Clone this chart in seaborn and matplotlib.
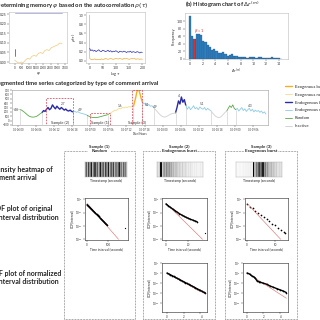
import numpy as np
import pandas as pd
import matplotlib
matplotlib.use('Agg')
import matplotlib.pyplot as plt
from matplotlib.patches import Rectangle
from matplotlib.ticker import LogLocator, NullLocator
import seaborn as sns

W, H = 320, 320

# ---------------- (a) memory and autocorrelation ----------------
phi_grid = list(range(0, 3301, 150))
mem_exo = [0.010, 0.000, -0.005, 0.000, -0.003, 0.010, 0.020, 0.015, 0.030, 0.035, 0.030, 0.045,
           0.050, 0.045, 0.060, 0.065, 0.060, 0.075, 0.080, 0.085, 0.090, 0.100, 0.095]
mem_endo = [0.255, 0.255, 0.255, 0.255, 0.255, 0.255, 0.255, 0.255, 0.255, 0.255, 0.255, 0.255,
            0.255, 0.255, 0.255, 0.255, 0.255, 0.255, 0.255, 0.255, 0.255, 0.255, 0.255]
mem_start_phi = [0, 0]
mem_start_vals = [0.03, 0.07]

lag_grid = [0, 1] + list(range(5, 201, 5))
acf_exo = [1.0, 0.05, 0.03, 0.02, 0.03, 0.04, 0.02, 0.03, 0.03, 0.02, 0.04, 0.03, 0.03, 0.05,
           0.04, 0.03, 0.04, 0.05, 0.04, 0.03, 0.04, 0.05, 0.04, 0.04, 0.05, 0.04, 0.03, 0.05,
           0.04, 0.05, 0.04, 0.03, 0.04, 0.05, 0.04, 0.05, 0.03, 0.04, 0.04, 0.03, 0.04, 0.03]
acf_endo = [np.nan, 0.27, 0.22, 0.24, 0.21, 0.23, 0.20, 0.22, 0.24, 0.21, 0.20, 0.23, 0.22, 0.20,
            0.21, 0.23, 0.20, 0.22, 0.19, 0.21, 0.20, 0.22, 0.20, 0.18, 0.21, 0.20, 0.19, 0.21,
            0.20, 0.18, 0.20, 0.19, 0.21, 0.18, 0.20, 0.19, 0.18, 0.20, 0.19, 0.17, 0.19, 0.18]

# ---------------- (b) histogram of delta r ----------------
bin_width = 0.35
bin_counts = [113, 60, 54, 67, 65, 63, 48, 45, 38, 32, 23, 27, 20, 15, 17, 18, 14, 9, 11, 12,
              8, 7, 5, 6, 4, 5, 3, 4, 5, 4, 3, 5, 4, 3, 2, 3, 2, 4, 3, 2, 3, 1]
beta_bin = 2

# ---------------- (c) segmented time series ----------------
seg_kind = ['Inactive', 'Random', 'Endogenous burst', 'Endogenous non-burst', 'Random',
            'Exogenous non-burst', 'Exogenous burst', 'Endogenous non-burst', 'Inactive',
            'Endogenous burst', 'Endogenous non-burst', 'Inactive', 'Random', 'Endogenous non-burst']
seg_start = [-1.7, 0.7, 8.0, 18.3, 23.0, 30.0, 38.3, 41.3, 45.0, 52.3, 55.7, 64.0, 69.3, 72.3]
series_end = 82.3
seg_values = [
    [262, 265, 263, 262, 258, 255],
    [255, 240, 215, 190, 160, 130, 105, 90, 82, 80, 85, 95, 115, 140, 165, 185],
    [185, 230, 210, 260, 300, 250, 280, 360, 310, 270, 330, 290, 260, 300, 270, 240, 265, 230,
     220, 240, 210, 200],
    [200, 215, 190, 205, 180, 170, 160, 150, 140, 120],
    [120, 100, 85, 75, 70, 68, 72, 80, 90, 100, 110, 120, 130, 140],
    [140, 160, 190, 210, 240, 230, 260, 280, 270, 300, 290, 310, 300, 320, 310, 330, 320],
    [320, 420, 520, 650, 720, 680, 600, 500, 420],
    [420, 380, 400, 350, 370, 330, 340, 300],
    [300, 260, 220, 180, 140, 110, 90, 80, 90, 110, 130, 150, 160, 170, 180],
    [180, 300, 450, 380, 540, 420, 480, 350],
    [350, 260, 320, 250, 290, 340, 270, 300, 250, 310, 280, 260, 300, 240, 280, 250, 230],
    [230, 180, 140, 100, 80, 70, 80, 110, 150, 190, 220],
    [220, 280, 340, 300, 360, 280, 250],
    [250, 280, 220, 260, 300, 230, 270, 210, 250, 280, 220, 260, 200, 240, 210, 230, 190, 220,
     170, 200, 150],
]
seg_labels = [(-0.5, 235, '4.4'), (15.0, 385, '2.7'), (20.5, 250, '4.9'), (34.0, 330, '1.6'),
              (42.8, 355, '6.1'), (45.5, 315, '4.9'), (53.5, 560, '4'), (61.0, 380, '5.1'),
              (77.0, 330, '4.3')]
sample_windows = [(9.3, 18.3, 517, 'Sample (2)'), (24.0, 30.7, 174, 'Sample (1)'),
                  (37.7, 41.3, 700, 'Sample (3)')]
kind_order = ['Exogenous burst', 'Exogenous non-burst', 'Endogenous burst',
              'Endogenous non-burst', 'Random', 'Inactive']
kind_colors = ['#f2b01e', '#f6dc8c', '#2a2aa8', '#8ccbe6', '#5aa845', '#cfcfcf']
kind_widths = [1.0, 0.6, 1.0, 0.6, 0.6, 0.6]

# ---------------- (d) density heatmap of arrivals ----------------
density_random = [0.5, 0.7, 0.4, 0.8, 0.5, 0.6, 0.9, 0.4, 0.6, 0.8, 0.5, 0.7, 0.4, 0.6, 0.9, 0.5,
                  0.6, 0.7, 0.4, 0.8, 0.6, 0.5, 0.9, 0.4, 0.6, 0.7, 0.5, 0.8, 0.4, 0.6, 0.5, 0.7,
                  0.9, 0.5, 0.6, 0.4, 0.7, 0.5, 0.6, 0.4]
density_endo = [0.25, 0.2, 0.3, 0.95, 0.3, 0.45, 0.5, 0.4, 0.55, 0.45, 0.5, 0.4, 0.45, 0.35, 0.4,
                0.3, 0.35, 0.3, 0.25, 0.3, 0.25, 0.2, 0.3, 0.2, 0.25, 0.2, 0.15, 0.2, 0.15, 0.2,
                0.15, 0.1, 0.15, 0.1, 0.15, 0.1, 0.1, 0.15, 0.1, 0.1]
density_exo = [0.05, 0.05, 0.05, 0.08, 0.05, 0.08, 0.1, 0.08, 0.1, 0.1, 0.12, 0.1, 0.15, 0.12,
               0.15, 1.0, 0.4, 0.6, 0.5, 0.7, 0.8, 0.6, 0.7, 0.9, 0.5, 0.6, 0.4, 0.5, 0.4, 0.35,
               0.4, 0.3, 0.35, 0.3, 0.25, 0.3, 0.2, 0.25, 0.2, 0.2]

# ---------------- (e) CDF of original intervals ----------------
cdf_rand_x = [0, 5, 10, 15, 20, 25, 30, 35, 40, 45, 50, 55, 60, 65, 70, 75, 80, 85, 90, 95]
cdf_rand_y = [0.40, 0.33, 0.28, 0.23, 0.19, 0.16, 0.13, 0.11, 0.09, 0.075, 0.062, 0.052, 0.043,
              0.036, 0.030, 0.025, 0.021, 0.017, 0.014, 0.012]
cdf_rand_tail = ([180], [0.0065])
fit_rand = ([0, 150], [0.5, 0.001])

cdf_endo_x = [0, 2, 4, 6, 8, 10, 12, 14, 16, 18, 20, 22, 24, 26, 28]
cdf_endo_y = [0.45, 0.33, 0.25, 0.19, 0.145, 0.11, 0.085, 0.068, 0.055, 0.045, 0.038, 0.032,
              0.028, 0.024, 0.021]
cdf_endo_tail = ([35], [0.003])
fit_endo = ([0, 33], [0.5, 0.001])

cdf_exo_x = [0, 1, 2, 3, 4, 5, 6, 7, 8, 9, 10, 11, 12, 13, 13.6]
cdf_exo_y = [0.42, 0.29, 0.21, 0.14, 0.098, 0.066, 0.048, 0.032, 0.023, 0.015, 0.011, 0.0075,
             0.0052, 0.0037, 0.003]
fit_exo = ([0, 12], [0.5, 0.001])

# ---------------- (f) CDF of normalized intervals ----------------
norm_endo_x = [0.0, 0.2, 0.4, 0.6, 0.8, 1.0, 1.2, 1.4, 1.6, 1.8, 2.0, 2.2, 2.4, 2.6, 2.8, 3.0,
               3.2, 3.4, 3.6, 3.8, 4.0, 4.2, 4.4, 4.6]
norm_endo_y = [1.0, 0.82, 0.67, 0.55, 0.45, 0.37, 0.30, 0.25, 0.20, 0.165, 0.135, 0.11, 0.09,
               0.074, 0.061, 0.05, 0.041, 0.033, 0.027, 0.022, 0.018, 0.015, 0.012, 0.010]
fit_norm_endo = ([0, 4.6], [0.9, 0.008])
norm_exo_x = [0.0, 0.3, 0.6, 0.8, 1.0, 1.2, 1.4, 1.6, 2.0, 2.4, 2.8, 3.2, 3.6, 4.0, 4.4, 4.8]
norm_exo_y = [1.0, 0.8, 0.5, 0.43, 0.30, 0.17, 0.14, 0.12, 0.095, 0.075, 0.05, 0.038, 0.028,
              0.021, 0.016, 0.011]
fit_norm_exo = ([0, 4.8], [1.0, 0.003])

sns.set_theme(style='ticks')
plt.rcParams['font.family'] = ['Lato', 'DejaVu Sans']
plt.rcParams['mathtext.fontset'] = 'dejavusans'
TICK = 2.4
TITLE = 4.2
SECTION = 5.0

fig = plt.figure(figsize=(3.2, 3.2), dpi=100)


def px_axes(x0, y0, x1, y1):
    return fig.add_axes([x0 / W, 1 - y1 / H, (x1 - x0) / W, (y1 - y0) / H])


def px_text(x, y, s, **kw):
    fig.text(x / W, 1 - y / H, s, **kw)


def style_axes(ax, color='#bbbbbb'):
    ax.tick_params(labelsize=TICK, length=1.2, width=0.3, pad=0.8, colors='#333333')
    for sp in ax.spines.values():
        sp.set_visible(True)
        sp.set_linewidth(0.4)
        sp.set_color(color)


# ---- (a)
px_text(148, 5, r'(a) Determining memory $\varphi$ based on the autocorrelation $\rho(\tau)$',
        fontsize=TITLE, fontweight='bold', ha='right', va='center')

ax = px_axes(9, 12, 67, 63)
sns.lineplot(x=phi_grid, y=mem_endo, ax=ax, color='#a9a9e6', lw=0.6)
sns.lineplot(x=mem_start_phi, y=mem_start_vals, ax=ax, color='#3535c0', lw=0.5,
             estimator=None, sort=False)
sns.lineplot(x=phi_grid, y=mem_exo, ax=ax, color='#f3c878', lw=0.5)
ax.set_xlim(-400, 3650)
ax.set_ylim(-0.005, 0.262)
ax.set_xticks([0, 500, 1000, 1500, 2000, 2500, 3000, 3500])
ax.set_yticks([0.0, 0.05, 0.10, 0.15, 0.20, 0.25])
ax.set_yticklabels(['0.00', '0.05', '0.10', '0.15', '0.20', '0.25'])
ax.set_xlabel(r'$\varphi$', fontsize=3, labelpad=0.5)
style_axes(ax)
ax.tick_params(axis='x', labelsize=2.1)

ax = px_axes(86, 12, 145, 63)
sns.lineplot(x=lag_grid, y=acf_exo, ax=ax, color='#f2a93b', lw=0.5)
sns.lineplot(x=lag_grid, y=acf_endo, ax=ax, color='#2a2ab0', lw=0.5)
ax.set_xlim(-13, 210)
ax.set_ylim(-0.05, 1.07)
ax.set_xticks([0, 50, 100, 150, 200])
ax.set_yticks([0.0, 0.2, 0.4, 0.6, 0.8, 1.0])
ax.set_xlabel(r'Lag $\tau$', fontsize=2.7, labelpad=0.5)
ax.set_ylabel(r'$\rho(\tau)$', fontsize=2.7, labelpad=0.5)
style_axes(ax)

# ---- (b)
px_text(185, 5, r'(b) Histogram chart of $\Delta r^{(m)}$', fontsize=TITLE, fontweight='bold',
        ha='left', va='center')
ax = px_axes(185, 13, 288, 59)
centers = np.arange(len(bin_counts)) * bin_width
hist_df = pd.DataFrame({'dr': centers, 'n': bin_counts})
sns.histplot(data=hist_df, x='dr', weights='n', binwidth=bin_width,
             binrange=(centers[0] - bin_width / 2, centers[-1] + bin_width / 2), ax=ax,
             color='#2f7fc1', edgecolor='#1d4f80', linewidth=0.2, alpha=1)
ax.patches[beta_bin].set_facecolor('#d9302c')
ax.text(centers[beta_bin] - 0.1, 73, r'$\beta$ = 1', color='#d9302c', fontsize=2.8,
        ha='left', va='center')
ax.set_xlim(-0.8, 15.5)
ax.set_ylim(0, 122)
ax.set_xticks(range(0, 15, 2))
ax.set_yticks([0, 20, 40, 60, 80, 100])
ax.set_xlabel(r'$\Delta r^{(m)}$', fontsize=2.7, labelpad=0.5)
ax.set_ylabel('Frequency', fontsize=2.7, labelpad=0.5)
style_axes(ax)

# ---- (c)
px_text(158, 83, '(c) Segmented time series categorized by type of comment arrival',
        fontsize=TITLE, fontweight='bold', ha='right', va='center')
ax = px_axes(12, 90, 268, 125)
seg_bounds = seg_start + [series_end]
rows = []
for i, vals in enumerate(seg_values):
    xs = np.linspace(seg_bounds[i], seg_bounds[i + 1], len(vals))
    for xv, yv in zip(xs, vals):
        rows.append({'hour': xv, 'value': yv, 'kind': seg_kind[i], 'seg': i})
ts = pd.DataFrame(rows)
ax.vlines(seg_start[1:], -100, [v[0] for v in seg_values[1:]], color='#c8c8c8', lw=0.4)
sns.lineplot(data=ts, x='hour', y='value', hue='kind', units='seg', estimator=None,
             hue_order=kind_order, palette=kind_colors, size='kind', size_order=kind_order,
             sizes=dict(zip(kind_order, kind_widths)), ax=ax, legend='brief')
for hx, vy, s in seg_labels:
    ax.text(hx, vy, s, fontsize=2.3, ha='center', va='center', color='#444444')
for x0, x1, top, s in sample_windows:
    ax.add_patch(Rectangle((x0, -100), x1 - x0, top + 100, fill=False, ls=(0, (2, 1.5)),
                           lw=0.6, ec='#e05060', zorder=5))
    ax.text((x0 + x1) / 2, -55, s, fontsize=2.9, ha='center', va='center', color='#333333')
ticks_h = list(range(0, 80, 6))
ax.set_xticks(ticks_h)
ax.set_xticklabels(['02-%02d %02d' % (6 + h // 24, h % 24) for h in ticks_h])
ax.set_xlim(-2, 83)
ax.set_ylim(-100, 700)
ax.set_yticks(range(-100, 701, 100))
ax.set_xlabel('Date/Hours', fontsize=2.0, labelpad=0.5)
ax.set_ylabel('')
style_axes(ax, '#999999')
ax.tick_params(axis='x', labelsize=1.8)
ax.tick_params(axis='y', labelsize=2.0)
ax.legend(loc='upper left', bbox_to_anchor=(1.06, 1.2), frameon=False, fontsize=3.1,
          handlelength=1.7, labelspacing=0.9, borderaxespad=0, handletextpad=0.5)

# ---- (d)-(f) left labels
section_lines = [(53, 169, '(d) Density heatmap of'), (37, 177, 'comment arrival'),
                 (52, 208, '(e) CDF plot of original'), (59, 217, 'time interval distribution'),
                 (61, 273, '(f) CDF plot of normalized'), (59, 282, 'time interval distribution')]
for x_end, y, s in section_lines:
    px_text(x_end, y, s, fontsize=SECTION, fontweight='bold', ha='right', va='center')

# column frames and titles
columns = [(64, 135, 'Sample (1)', 'Random'), (143, 215, 'Sample (2)', 'Endogenous burst'),
           (225, 297, 'Sample (3)', 'Exogenous burst')]
for x0, x1, t1, t2 in columns:
    fig.patches.append(Rectangle((x0 / W, 1 - 319 / H), (x1 - x0) / W, (319 - 151) / H,
                                 transform=fig.transFigure, fill=False, ls=(0, (1, 1.2)),
                                 lw=0.5, ec='#555555'))
    px_text((x0 + x1) / 2, 149, t1 + '\n' + t2, fontsize=3.2, fontweight='bold', ha='center',
            va='center', linespacing=1.15,
            bbox=dict(facecolor='white', edgecolor='none', pad=0.6))

# barcodes
for (x0, x1), dens in zip([(85, 127), (157, 203), (236, 282)],
                          [density_random, density_endo, density_exo]):
    ax = px_axes(x0, 162, x1, 177)
    sns.heatmap(np.array([dens]), cmap='Greys', vmin=0, vmax=1, cbar=False,
                xticklabels=False, yticklabels=False, ax=ax)
    ax.set_xlabel('Timestamp (seconds)', fontsize=2.5, labelpad=1.2)
    for sp in ax.spines.values():
        sp.set_visible(True)
        sp.set_linewidth(0.3)
        sp.set_color('#aaaaaa')


def cdf_panel(rect, xs, ys, fit, xlim, xticks, ylim, tail=None, marker_size=1.2, line=True):
    ax = px_axes(*rect)
    sns.lineplot(x=fit[0], y=fit[1], ax=ax, color='#e06666', lw=0.4)
    if line:
        sns.lineplot(x=xs, y=ys, ax=ax, color='black', lw=1.0, marker='o', markersize=marker_size,
                     markeredgewidth=0)
    else:
        sns.scatterplot(x=xs, y=ys, ax=ax, color='black', s=marker_size, linewidth=0)
    if tail is not None:
        sns.scatterplot(x=tail[0], y=tail[1], ax=ax, color='black', s=0.8, linewidth=0)
    ax.set_yscale('log')
    ax.set_xlim(*xlim)
    ax.set_ylim(*ylim)
    ax.set_xticks(xticks)
    ax.yaxis.set_major_locator(LogLocator(base=10, numticks=10))
    ax.yaxis.set_minor_locator(NullLocator())
    ax.set_xlabel('Time interval (seconds)', fontsize=2.3, labelpad=0.8)
    ax.set_ylabel('CDF(interval)', fontsize=2.3, labelpad=0.5)
    style_axes(ax, '#222222')
    ax.tick_params(labelsize=2.1)
    return ax


orig_ylim = (10 ** -3.05, 10 ** 0.1)
cdf_panel((85, 198, 128, 240), cdf_rand_x, cdf_rand_y, fit_rand, (-10, 195), [0, 100],
          orig_ylim, tail=cdf_rand_tail)
cdf_panel((162, 198, 207, 240), cdf_endo_x, cdf_endo_y, fit_endo, (-3.6, 37), [0, 20],
          orig_ylim, tail=cdf_endo_tail)
cdf_panel((245, 198, 288, 240), cdf_exo_x, cdf_exo_y, fit_exo, (-0.7, 14.6), [0, 10],
          orig_ylim, marker_size=1.5, line=False)

norm_ylim = (10 ** -3.9, 10 ** 1.0)
cdf_panel((162, 263, 207, 312), norm_endo_x, norm_endo_y, fit_norm_endo, (-0.6, 4.8), [0, 2, 4],
          norm_ylim)
cdf_panel((243, 263, 288, 312), norm_exo_x, norm_exo_y, fit_norm_exo, (-0.5, 5.0), [0, 2, 4],
          norm_ylim)

fig.savefig('out.png', dpi=100)
